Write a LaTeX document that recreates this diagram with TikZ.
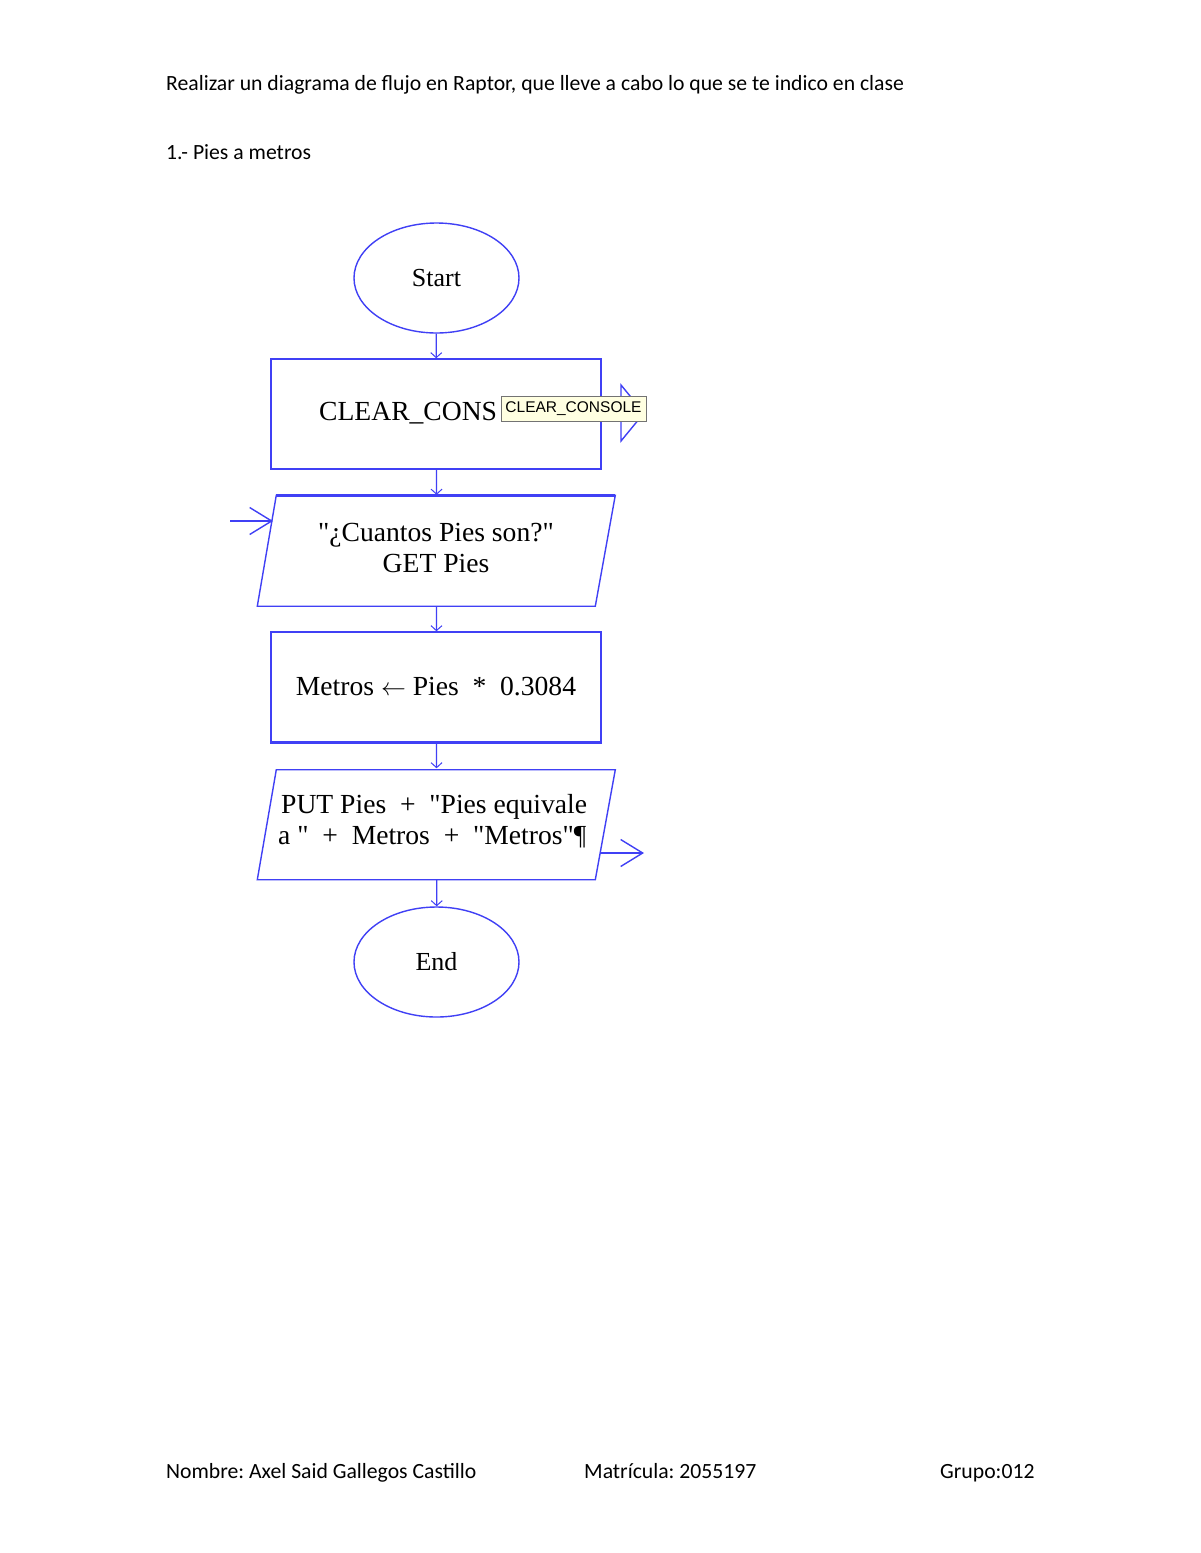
\documentclass[tikz,border=0pt]{standalone}
\usepackage{fontspec}
\setmainfont{Liberation Serif}[Ligatures=TeXOff]
\newfontfamily\hdrfont{Carlito}
\newfontfamily\tipfont{Liberation Sans}
\usetikzlibrary{arrows.meta,shapes.geometric}
\definecolor{rblue}{RGB}{64,64,245}
\definecolor{tipfill}{RGB}{255,255,225}
\newcommand{\dq}{\symbol{34}}
\frenchspacing
\tikzset{
  doc/.style={anchor=base west,inner sep=0,font=\hdrfont\fontsize{21.7}{25}\selectfont},
  term/.style={ellipse,draw=rblue,line width=1.4pt,minimum width=165,minimum height=110,inner sep=0,font=\fontsize{26}{30}\selectfont},
  procbox/.style={rectangle,draw=rblue,line width=1.4pt,minimum width=330,minimum height=110,inner sep=0,font=\fontsize{27.6}{31}\selectfont},
  iobox/.style={rectangle,minimum width=339,minimum height=111,inner sep=0,font=\fontsize{27.6}{31}\selectfont},
  para/.style={draw=rblue,line width=1.4pt},
  flow/.style={draw=rblue,line width=1.2pt,-{Straight Barb[length=5pt,width=11pt,line width=1pt]}},
  side/.style={draw=rblue,line width=1.4pt,-{Straight Barb[length=22pt,width=27pt,line width=1.4pt]}},
}
\begin{document}
\begin{tikzpicture}[x=1pt,y=-1pt]
\useasboundingbox[fill=white] (0,0) rectangle (1200,1553);
% page texts
\node[doc] (h1) at (166,90) {Realizar un diagrama de flujo en Raptor, que lleve a cabo lo que se te indico en clase};
\node[doc] (h2) at (166,159) {1.- Pies a metros};
\node[doc] (f1) at (166,1478) {Nombre: Axel Said Gallegos Castillo};
\node[doc] (f2) at (584,1478) {Matrícula: 2055197};
\node[doc] (f3) at (940,1478) {Grupo:012};
% flowchart
\node[term] (start) at (436.5,278) {Start};
\node[procbox] (clear) at (436,414) {};
\node[anchor=base west,inner sep=0,font=\fontsize{27.6}{31}\selectfont] (cleartxt) at (319,420) {CLEAR\_CONS};
\node[iobox] (inp) at (437,550.5) {};
\node[align=center,inner sep=0,font=\fontsize{27.6}{31}\selectfont] (inptxt) at (436,547.5) {\dq¿Cuantos Pies son?\dq\\GET Pies};
\node[procbox] (asg) at (436,687) {Metros $\leftarrow$ Pies\ \ *\ \ 0.3084};
\node[iobox] (out) at (437,824) {};
\node[anchor=base west,inner sep=0,font=\fontsize{27.6}{31}\selectfont] (outl1) at (281,813) {PUT Pies\ \ +\ \ \dq Pies equivale};
\node[anchor=base west,inner sep=0,font=\fontsize{27.6}{31}\selectfont] (outl2) at (278,844) {a \dq\ \ +\ \ Metros\ \ +\ \ \dq Metros\dq¶};
\node[term] (end) at (436.5,962) {End};
% parallelograms
\draw[para] (inp.south west) ++(-10,0) -- ++(19,-111) coordinate (inptl) -- ++(339,0) coordinate (inptr) -- ++(-20,111) -- cycle;
\draw[draw=rblue,line width=2.6pt] (inptl) -- (inptr);
\draw[para] (out.south west) ++(-10,0) -- ++(19,-110) -- ++(339,0) -- ++(-20,110) -- cycle;
\draw[draw=rblue,line width=2.6pt] (asg.south west) -- (asg.south east);
% connectors
\draw[flow] (start) -- (clear);
\draw[flow] (clear) -- (inp);
\draw[flow] (inp) -- (asg);
\draw[flow] (asg) -- (out);
\draw[flow] (out) -- (end);
% side arrows
\coordinate (inarr) at (230,521);
\coordinate (inhit) at (273,521);
\draw[side] (inarr) -- (inhit);
\coordinate (outfrom) at (600,853);
\coordinate (outto) at (644,853);
\draw[side] (outfrom) -- (outto);
% clear_console triangle and tooltip
\draw[draw=rblue,line width=1.4pt] (621,385) -- (644,413) -- (621,441) -- cycle;
\node[draw=black!55,fill=tipfill,line width=0.8pt,minimum width=145,minimum height=25,inner sep=0,font=\tipfont\fontsize{15.5}{18}\selectfont] (tip) at (573.5,408.5) {CLEAR\_CONSOLE};
\end{tikzpicture}
\end{document}
